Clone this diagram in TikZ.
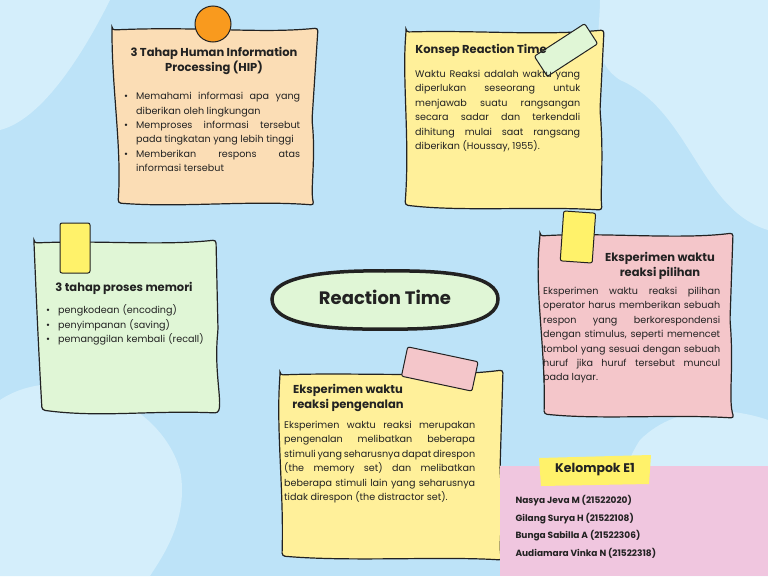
\documentclass[tikz,border=0pt]{standalone}
\usepackage{fontspec}
\setmainfont{Poppins}
\usetikzlibrary{shapes.geometric}
\definecolor{bg}{HTML}{BDE3F8}
\definecolor{bgl}{HTML}{D4EEFB}
\definecolor{orangenote}{HTML}{FBDDB5}
\definecolor{yellownote}{HTML}{FFF09A}
\definecolor{greennote}{HTML}{E0F6D6}
\definecolor{pinknote}{HTML}{F4C6CA}
\definecolor{pinkbox}{HTML}{F0C6DF}
\definecolor{pin}{HTML}{F99A1E}
\definecolor{ytape}{HTML}{FFF26A}
\definecolor{ink}{HTML}{222222}
\newcommand\bit{\par\hangindent=12pt\hangafter=1\noindent\makebox[12pt][l]{\textbullet}}
\newcommand\nohyph{\hyphenpenalty=10000\relax\exhyphenpenalty=10000\relax}
\tikzset{
  note/.style={draw=ink, line width=1.2pt, rounded corners=3pt},
  tape/.style={draw=ink, line width=1pt, rounded corners=2pt},
  head/.style={font=\bfseries\fontsize{11.5}{14.5}\selectfont, align=center, text=ink},
  body/.style={font=\fontsize{9.6}{14.4}\selectfont\nohyph, align=justify, text=ink, anchor=north west, inner sep=0pt},
}
\begin{document}
\begin{tikzpicture}[x=1pt,y=-1pt]
\fill[bg] (0,0) rectangle (768,576);
\useasboundingbox (0,0) rectangle (768,576);
\fill[bgl] (0,0) -- (110,0) .. controls (80,60) and (40,120) .. (0,130) -- cycle;
\fill[bgl] (600,0) -- (768,0) -- (768,230) .. controls (700,210) and (690,110) .. (620,80) .. controls (590,60) and (600,30) .. (600,0);
\fill[bgl] (0,400) .. controls (60,360) and (160,400) .. (180,470) .. controls (190,520) and (160,560) .. (150,576) -- (0,576) -- cycle;
\fill[bgl] (640,440) .. controls (680,400) and (740,410) .. (768,420) -- (768,576) -- (620,576) .. controls (610,520) and (620,470) .. (640,440);

% orange note
\draw[note, fill=orangenote] (112,30) .. controls (200,26) and (260,34) .. (318,28) -- (312,120) .. controls (316,160) and (310,190) .. (314,205) .. controls (250,200) and (180,208) .. (118,203) .. controls (122,150) and (112,90) .. cycle;
\draw[ink, line width=1pt, fill=pin] (213,24) circle (18);
\node[head] (h1) at (214,61) {3 Tahap Human Information\\Processing (HIP)};
\node[body, text width=176pt] (b1) at (124,85) {%
\bit Memahami informasi apa yang diberikan oleh lingkungan
\bit Memproses informasi tersebut pada tingkatan yang lebih tinggi
\bit Memberikan respons atas informasi tersebut\par};

% yellow note top
\draw[note, fill=yellownote] (406,32) .. controls (480,30) and (540,36) .. (604,30) -- (600,110) .. controls (604,160) and (600,190) .. (602,210) .. controls (540,206) and (460,212) .. (405,205) .. controls (410,140) and (402,80) .. cycle;
\draw[tape, fill=greennote, rotate around={33:(566,50)}] (536,38) rectangle (596,62);
\node[head] (h2) at (481,50) {Konsep Reaction Time};
\node[body, text width=165pt] (b2) at (415,70) {Waktu Reaksi adalah waktu yang diperlukan seseorang untuk menjawab suatu rangsangan secara sadar dan terkendali dihitung mulai saat rangsang diberikan (Houssay, 1955).\par};

% green note
\draw[note, fill=greennote] (34,243) .. controls (100,240) and (160,246) .. (216,240) -- (218,330) .. controls (214,370) and (222,400) .. (218,413) .. controls (150,410) and (100,418) .. (42,410) .. controls (38,340) and (36,290) .. cycle;
\draw[tape, fill=ytape] (60,223) rectangle (90,273);
\node[head] (h3) at (124,288) {3 tahap proses memori};
\node[body, text width=176pt, align=left] (b3) at (46,299) {%
\bit pengkodean (encoding)
\bit penyimpanan (saving)
\bit pemanggilan kembali (recall)\par};

% pink note
\draw[note, fill=pinknote] (540,236) .. controls (600,232) and (680,240) .. (733,233) -- (730,320) .. controls (734,370) and (728,400) .. (734,418) .. controls (670,414) and (600,420) .. (544,414) .. controls (546,350) and (534,290) .. cycle;
\draw[tape, fill=ytape, rotate around={-4:(578,236)}] (562,212) rectangle (594,262);
\node[head] (h4) at (660,266) {Eksperimen waktu\\reaksi pilihan};
\node[body, text width=177pt] (b4) at (543,287) {Eksperimen waktu reaksi pilihan operator harus memberikan sebuah respon yang berkorespondensi dengan stimulus, seperti memencet tombol yang sesuai dengan sebuah huruf jika huruf tersebut muncul pada layar.\par};

% center oval
\draw[ink, line width=3.5pt, fill=greennote] (272,299) .. controls (272,276) and (330,270) .. (385,271) .. controls (450,270) and (498,276) .. (498,299) .. controls (498,323) and (450,330) .. (385,329) .. controls (320,330) and (272,323) .. cycle;
\node[font=\bfseries\fontsize{18}{20}\selectfont, text=ink] (c) at (385,297) {Reaction Time};

% yellow note bottom
\draw[note, fill=yellownote] (280,375) .. controls (350,372) and (440,378) .. (503,370) -- (500,470) .. controls (504,520) and (498,545) .. (502,560) .. controls (440,556) and (350,562) .. (282,556) .. controls (284,490) and (276,430) .. cycle;
\draw[tape, fill=pinknote, rotate around={-12:(440,368)}] (404,354) rectangle (476,384);
\node[head] (h5) at (348,398) {Eksperimen waktu\\reaksi pengenalan};
\node[body, text width=191pt] (b5) at (284,421) {Eksperimen waktu reaksi merupakan pengenalan melibatkan beberapa stimuli yang seharusnya dapat direspon (the memory set) dan melibatkan beberapa stimuli lain yang seharusnya tidak direspon (the distractor set).\par};

% group box
\fill[pinkbox] (500,466) rectangle (768,576);
\fill[ytape] (539,458) -- (651,455) -- (649,484) -- (541,486) -- cycle;
\node[font=\bfseries\fontsize{12.5}{14}\selectfont, text=ink] (k) at (595,470) {Kelompok E1};
\node[font=\bfseries\fontsize{9}{17.5}\selectfont, text=ink, align=left, anchor=north west] (names) at (512,492) {Nasya Jeva M (21522020)\\Gilang Surya H (21522108)\\Bunga Sabilla A (21522306)\\Audiamara Vinka N (21522318)};
\end{tikzpicture}
\end{document}
